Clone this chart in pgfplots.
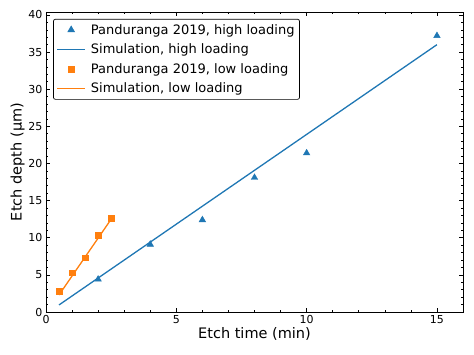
\documentclass[border=0pt]{standalone}
\usepackage{pgfplots}
\pgfplotsset{compat=1.18}
\usepackage{fontspec}
\setmainfont{DejaVu Sans}
\definecolor{tabblue}{HTML}{1F77B4}
\definecolor{taborange}{HTML}{FF7F0E}
\pgfplotsset{
  markleg/.style={legend image code/.code={\draw[mark repeat=2,mark phase=2,##1] plot coordinates {(0pt,0pt) (14pt,0pt) (28pt,0pt)};}},
  lineleg/.style={legend image code/.code={\draw[##1, line width=1.5pt] (0pt,0pt) -- (28pt,0pt);}},
}
\begin{document}
\begin{tikzpicture}[x=1pt,y=1pt]
\begin{axis}[
  scale only axis,
  width=417pt, height=300pt,
  xmin=0, xmax=16, ymin=0, ymax=40.4,
  xtick={0,5,10,15}, ytick={0,5,...,40},
  minor x tick num=4, minor y tick num=4,
  tick align=inside, tick pos=both,
  major tick length=4pt, minor tick length=2pt,
  every tick/.style={black, line width=0.6pt},
  axis line style={black, line width=0.8pt},
  tick label style={font=\fontsize{11}{13}\selectfont},
  /pgf/number format/assume math mode=true,
  xlabel={Etch time (min)}, ylabel={Etch depth (µm)},
  label style={font=\fontsize{14.5}{17}\selectfont},
  xlabel style={yshift=3pt},
  ylabel style={yshift=-3pt},
  legend style={font=\fontsize{13}{15}\selectfont, draw=black, rounded corners=2pt, line width=0.7pt, at={(0.017,0.977)}, anchor=north west, inner xsep=3pt, inner ysep=3pt, row sep=4.2pt, column sep=3pt},
  legend cell align=left,
  clip=false,
]
\addplot[only marks, mark=triangle*, mark size=3.8pt, color=tabblue, markleg] coordinates {
(2,4.4) (4,9.1) (6,12.4) (8,18.1) (10,21.4) (15,37.2)};
\addlegendentry{Panduranga 2019, high loading}
\addplot[tabblue, line width=1.3pt, lineleg] coordinates {(0.5,0.95) (15,36.0)};
\addlegendentry{Simulation, high loading}
\addplot[only marks, mark=square*, mark size=2.9pt, color=taborange, markleg] coordinates {
(0.5,2.8) (1,5.3) (1.5,7.3) (2,10.3) (2.5,12.6)};
\addlegendentry{Panduranga 2019, low loading}
\addplot[taborange, line width=1.3pt, lineleg] coordinates {(0.5,2.3) (2.5,12.5)};
\addlegendentry{Simulation, low loading}
\end{axis}
\path (-46,-43) rectangle (428,312);
\end{tikzpicture}
\end{document}
